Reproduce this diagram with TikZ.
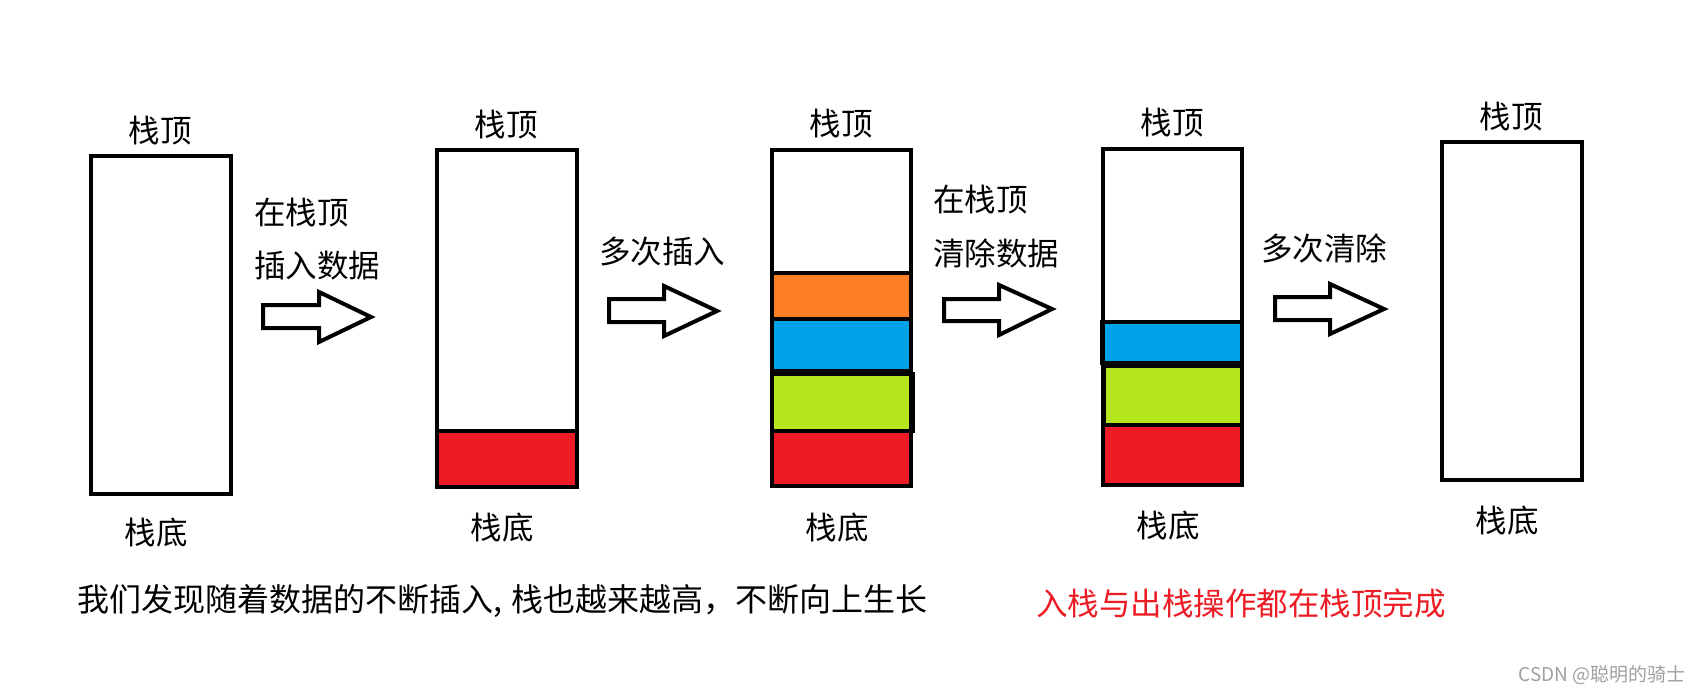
\documentclass[tikz,border=0pt]{standalone}
\usepackage{fontspec}
\newfontfamily\cjk{Noto Sans CJK SC}
\definecolor{pred}{RGB}{237,28,36}
\definecolor{porange}{RGB}{255,127,39}
\definecolor{pblue}{RGB}{0,162,232}
\definecolor{pgreen}{RGB}{181,230,29}
\definecolor{wm}{RGB}{160,160,160}
\tikzset{
  box/.style={draw=black,line width=4pt,line join=miter},
  lbl/.style={font=\cjk\fontsize{31.5}{34}\selectfont,inner sep=0pt,text=black},
  blockarrow/.style={draw=black,line width=4pt,fill=white,line join=miter},
}
\begin{document}
\begin{tikzpicture}[x=1pt,y=-1pt]
\useasboundingbox[fill=white] (0,0) rectangle (1702,693);
% stack 1
\draw[box] (91.3,156) rectangle (230.7,493.7);
\node[lbl] (t1) at (160,131) {栈顶};
\node[lbl] (b1) at (156,533) {栈底};
% arrow 1
\node[lbl,anchor=west] (a1l1) at (254,213) {在栈顶};
\node[lbl,anchor=west] (a1l2) at (254,266) {插入数据};
\draw[blockarrow] (263,305) -- (319,305) -- (319,292) -- (371,317) -- (319,342) -- (319,328) -- (263,328) -- cycle;
% stack 2
\draw[box,fill=pred] (437,431) rectangle (577,487);
\draw[box] (437,150) rectangle (577,487);
\node[lbl] (t2) at (506,125) {栈顶};
\node[lbl] (b2) at (502,528) {栈底};
% arrow 2
\node[lbl,anchor=west] (a2l1) at (599,252) {多次插入};
\draw[blockarrow] (609,299) -- (664,299) -- (664,286) -- (717,311) -- (664,336) -- (664,322) -- (609,322) -- cycle;
% stack 3
\draw[box,fill=porange] (771.5,272.5) rectangle (911,319);
\draw[box,fill=pblue] (772,319) rectangle (911,371);
\draw[box,fill=pgreen] (772,374) rectangle (912.5,431);
\draw[box,fill=pred] (772,431) rectangle (911,486);
\draw[box] (772,150) rectangle (911,486);
\node[lbl] (t3) at (841,124) {栈顶};
\node[lbl] (b3) at (837,528) {栈底};
% arrow 3
\node[lbl,anchor=west] (a3l1) at (933,200) {在栈顶};
\node[lbl,anchor=west] (a3l2) at (933,253) {清除数据};
\draw[blockarrow] (944,299) -- (999,299) -- (999,285) -- (1052,309) -- (999,335) -- (999,321) -- (944,321) -- cycle;
% stack 4
\draw[box,fill=pblue] (1102,321.5) rectangle (1242,363);
\draw[box,fill=pgreen] (1104,366) rectangle (1242,424.5);
\draw[box,fill=pred] (1103,424.5) rectangle (1242,485);
\draw[box] (1103,149) rectangle (1242,485);
\node[lbl] (t4) at (1172,123) {栈顶};
\node[lbl] (b4) at (1168,526) {栈底};
% arrow 4
\node[lbl,anchor=west] (a4l1) at (1261,248) {多次清除};
\draw[blockarrow] (1275,297) -- (1330,297) -- (1330,284) -- (1384,309) -- (1330,334) -- (1330,320) -- (1275,320) -- cycle;
% stack 5
\draw[box] (1442,142) rectangle (1582,480);
\node[lbl] (t5) at (1511,117) {栈顶};
\node[lbl] (b5) at (1507,521) {栈底};
% bottom texts
\node[lbl,font=\cjk\fontsize{32}{34}\selectfont,anchor=west] (note1) at (77,601) {我们发现随着数据的不断插入,\hspace{0.3em}栈也越来越高，不断向上生长};
\node[lbl,anchor=west,text=pred] (note2) at (1036,603) {入栈与出栈操作都在栈顶完成};
\node[font=\cjk\fontsize{19}{21}\selectfont,text=wm,inner sep=0pt,anchor=east] (wm) at (1686,675) {CSDN @聪明的骑士};
\end{tikzpicture}
\end{document}
